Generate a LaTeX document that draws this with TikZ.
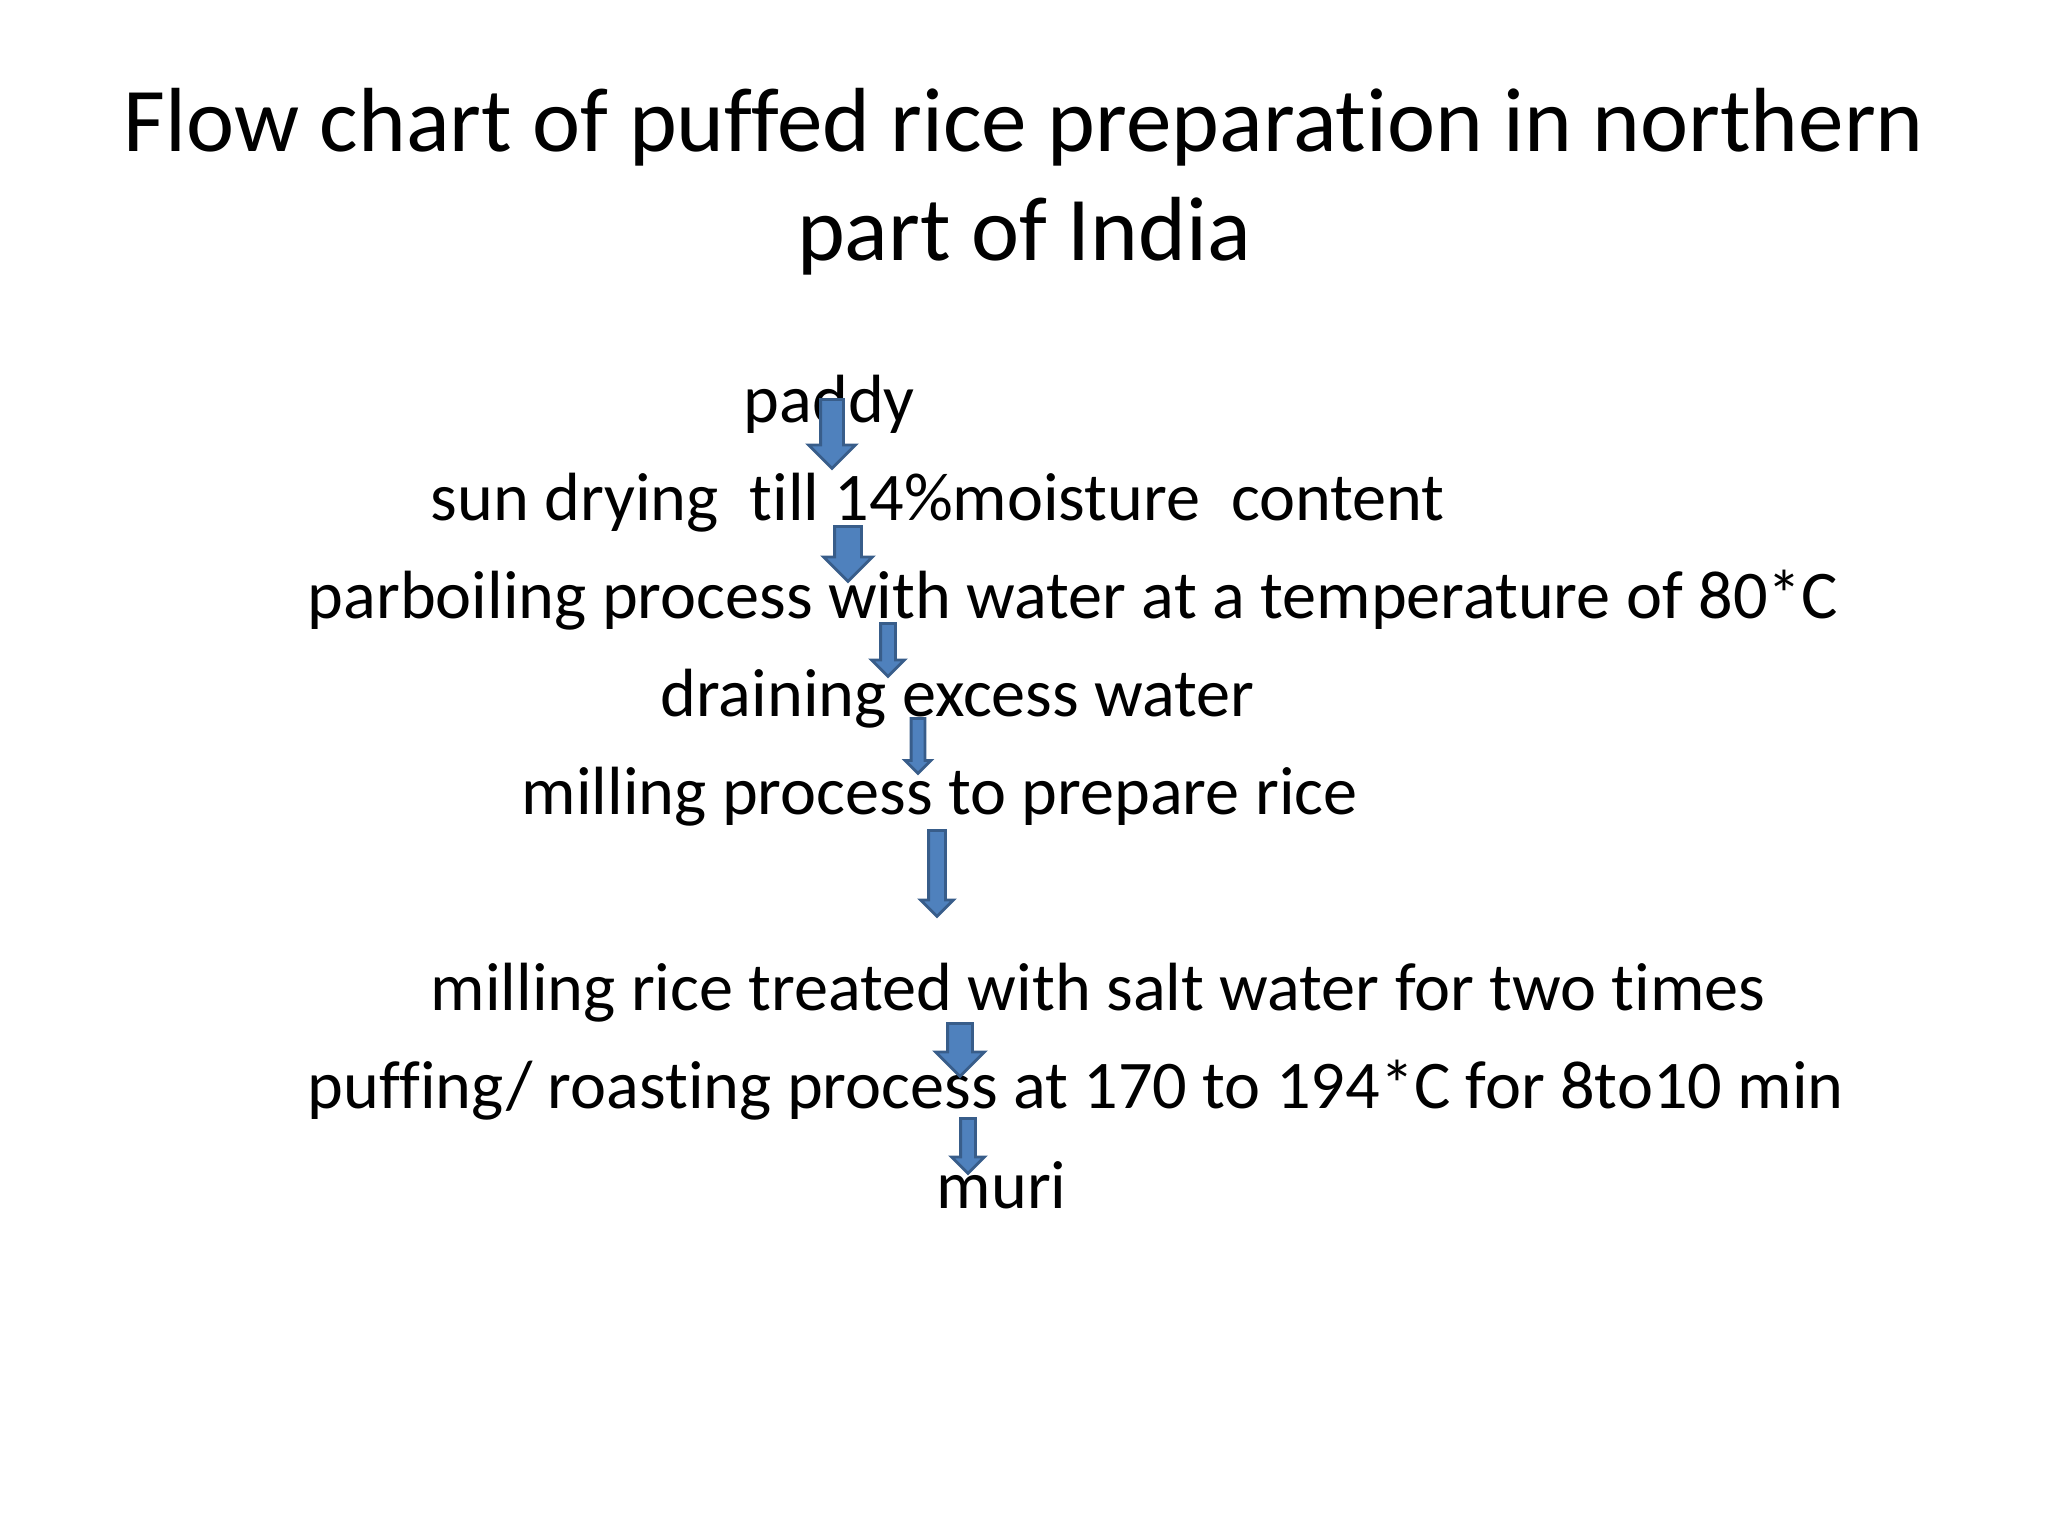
\documentclass[tikz,border=0pt]{standalone}
\usepackage{fontspec}
\setmainfont{Carlito}[Ligatures={NoCommon}]
\usepackage{tikz}
\usetikzlibrary{shapes.arrows}
\usepackage{xcolor}
\definecolor{arrowfill}{HTML}{4F81BD}
\definecolor{arrowline}{HTML}{385D8A}

\begin{document}
\begin{tikzpicture}[x=0.01cm, y=-0.01cm,
        title/.style={anchor=base, inner sep=0pt, font=\fontsize{25.9}{31}\selectfont},
        line/.style={anchor=base west, inner sep=0pt, font=\fontsize{19.4}{23}\selectfont},
        downarrow/.style={single arrow, rotate=-90, anchor=tail, inner xsep=0pt,
            minimum width=0pt, fill=arrowfill, draw=arrowline, line width=0.8pt}]
    \useasboundingbox (0,0) rectangle (2048,1536);
        \node[title] (t1) at (1024,151) {Flow chart of puffed rice preparation in northern};
        \node[title] (t2) at (1024,260) {part of India};
        \node[line] (paddy) at (743,422) {paddy};
        \node[line] (sun) at (430,520) {sun drying\ \ till 14\%moisture\ \ content};
        \node[line] (parb) at (307,618) {parboiling process with water at a temperature of 80*C};
        \node[line] (drain) at (660,716) {draining excess water};
        \node[line] (mill) at (521,814) {milling process to prepare rice};
        \node[line] (salt) at (430,1010) {milling rice treated with salt water for two times};
        \node[line] (puff) at (307,1108) {puffing/ roasting process at 170 to 194*C for 8to10 min};
        \node[line] (muri) at (936,1208) {muri};
	% block arrows
        \node[downarrow, minimum height=0.69cm, inner ysep=0.10cm, single arrow head extend=0.12cm] (a1) at (832,398) {};
        \node[downarrow, minimum height=0.55cm, inner ysep=0.12cm, single arrow head extend=0.11cm] (a2) at (848,525) {};
        \node[downarrow, minimum height=0.53cm, inner ysep=0.06cm, single arrow head extend=0.09cm] (a3) at (888,622) {};
        \node[downarrow, minimum height=0.55cm, inner ysep=0.055cm, single arrow head extend=0.06cm] (a4) at (918,717) {};
        \node[downarrow, minimum height=0.86cm, inner ysep=0.07cm, single arrow head extend=0.08cm] (a5) at (937,829) {};
        \node[downarrow, minimum height=0.53cm, inner ysep=0.11cm, single arrow head extend=0.12cm] (a6) at (960,1022) {};
        \node[downarrow, minimum height=0.55cm, inner ysep=0.06cm, single arrow head extend=0.09cm] (a7) at (968,1117) {};
    \end{tikzpicture}
\end{document}
